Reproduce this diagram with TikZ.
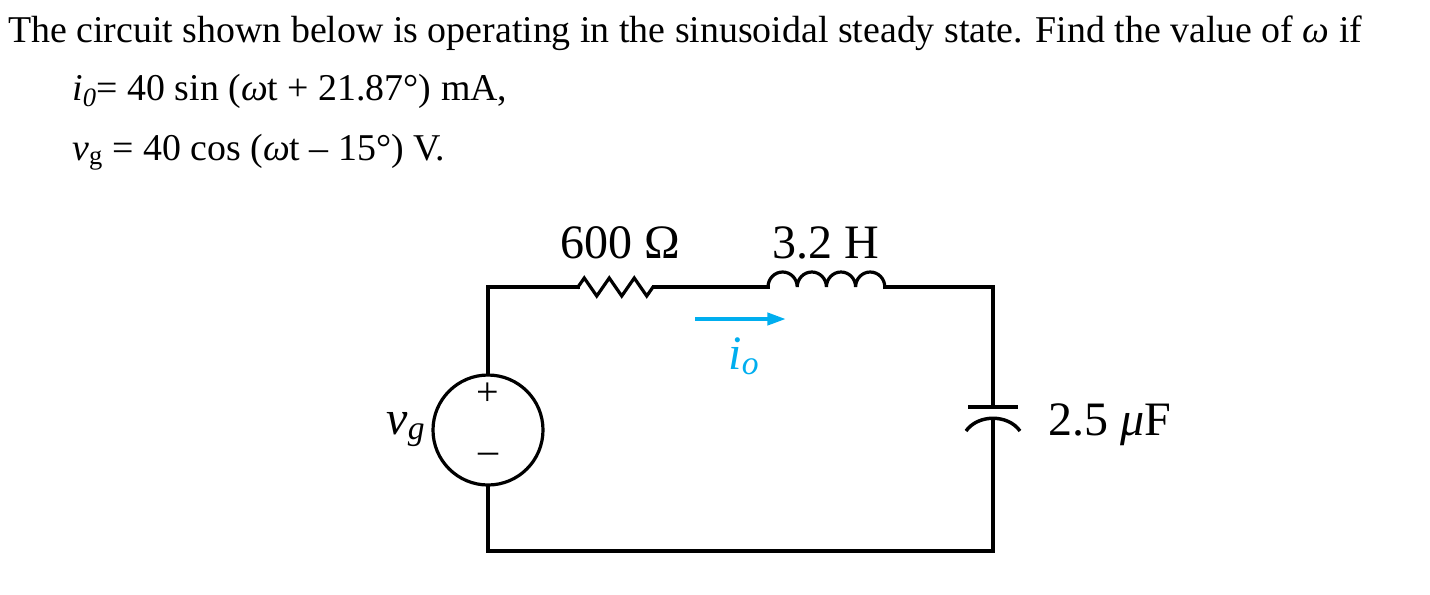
\documentclass[tikz,border=0pt]{standalone}
\usepackage{fontspec}
\setmainfont{Liberation Serif}
\usetikzlibrary{arrows.meta}
\definecolor{cy}{RGB}{0,174,239}
\begin{document}
\begin{tikzpicture}[x=0.75pt,y=-0.75pt,
  wire/.style={line width=2.4pt,line cap=rect},
  txt/.style={inner sep=0pt,anchor=base west,font=\fontsize{28.4}{32}\selectfont},
  lab/.style={inner sep=0pt,font=\fontsize{36}{36}\selectfont}]
\useasboundingbox (0,0) rectangle (1430,594);
\node[txt] (l1) at (8,42) {The circuit shown below is operating in the sinusoidal steady state. Find the value of \textit{ω} if};
\node[txt] (l2) at (72,100) {\textit{i\textsubscript{0}}= 40 sin (\textit{ω}t + 21.87°) mA,};
\node[txt] (l3) at (72,160) {\textit{v}\textsubscript{g} = 40 cos (\textit{ω}t -- 15°) V.};
\coordinate (tl) at (488,287);
\coordinate (tr) at (993,287);
\coordinate (bl) at (488,551);
\coordinate (br) at (993,551);
\coordinate (r1) at (578,287); \coordinate (r2) at (654,287);
\coordinate (i1) at (768,287); \coordinate (i2) at (885,287);
\node[draw,circle,line width=2.4pt,minimum size=110pt*0.75,inner sep=0pt] (src) at (488,430) {};
\coordinate (c1) at (993,407); \coordinate (c2) at (993,419);
\draw[wire] (src.north) -- (tl) -- (r1);
\draw[wire] (r1) -- ++(6.25,-9) -- ++(12.5,18) -- ++(12.5,-18) -- ++(12.5,18) -- ++(12.5,-18) -- ++(12.5,18) -- ++(6.25,-9) -- (r2);
\draw[wire] (r2) -- (i1);
\draw[wire,line cap=butt] (i1) arc[start angle=180,end angle=360,x radius=14.6,y radius=15]
  arc[start angle=180,end angle=360,x radius=14.6,y radius=15]
  arc[start angle=180,end angle=360,x radius=14.6,y radius=15]
  arc[start angle=180,end angle=360,x radius=14.6,y radius=15];
\draw[wire] (i2) -- (tr) -- (c1);
\draw[line width=3.5pt] (968,407) -- (1018,407);
\draw[line width=2.6pt] (966,431) .. controls (978,414) and (1008,414) .. (1020,431);
\draw[wire] (c2) -- (br) -- (bl) -- (src.south);
\node[inner sep=0pt,font=\fontsize{30}{30}\selectfont] (pl) at (488,394) {+};
\node[inner sep=0pt,font=\fontsize{30}{30}\selectfont] (mi) at (488,458) {--};
\draw[cy,line width=3pt,-{Triangle[length=14pt,width=9pt]}] (695,319) -- (786,319);
\node[cy,lab] (io) at (744,356) {\textit{i\textsubscript{o}}};
\node[lab] (vg) at (406,430) {\textit{v\textsubscript{g}}};
\node[lab] (cl) at (1110,425) {2.5 \textit{μ}F};
\node[lab] (rl) at (620,243) {600 Ω};
\node[lab] (ll) at (826,243) {3.2 H};
\end{tikzpicture}
\end{document}
